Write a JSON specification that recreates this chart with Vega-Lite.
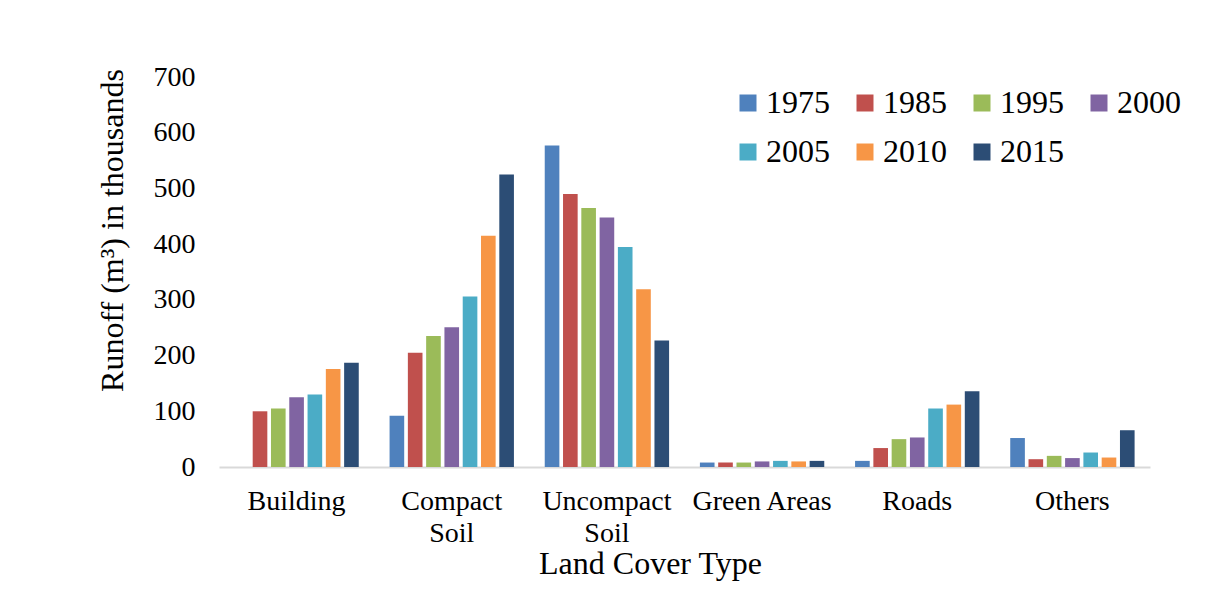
{
  "$schema": "https://vega.github.io/schema/vega-lite/v6.json",
  "autosize": "none",
  "width": 931,
  "height": 390,
  "padding": {"left": 219, "top": 77, "right": 60, "bottom": 127},
  "background": "white",
  "data": {
    "values": [
      {"type": "Building", "year": "1975", "runoff": 0},
      {"type": "Building", "year": "1985", "runoff": 100},
      {"type": "Building", "year": "1995", "runoff": 105},
      {"type": "Building", "year": "2000", "runoff": 125},
      {"type": "Building", "year": "2005", "runoff": 130},
      {"type": "Building", "year": "2010", "runoff": 176},
      {"type": "Building", "year": "2015", "runoff": 187},
      {"type": "Compact Soil", "year": "1975", "runoff": 92},
      {"type": "Compact Soil", "year": "1985", "runoff": 205},
      {"type": "Compact Soil", "year": "1995", "runoff": 235},
      {"type": "Compact Soil", "year": "2000", "runoff": 251},
      {"type": "Compact Soil", "year": "2005", "runoff": 306},
      {"type": "Compact Soil", "year": "2010", "runoff": 415},
      {"type": "Compact Soil", "year": "2015", "runoff": 525},
      {"type": "Uncompact Soil", "year": "1975", "runoff": 577},
      {"type": "Uncompact Soil", "year": "1985", "runoff": 490},
      {"type": "Uncompact Soil", "year": "1995", "runoff": 465},
      {"type": "Uncompact Soil", "year": "2000", "runoff": 448},
      {"type": "Uncompact Soil", "year": "2005", "runoff": 395},
      {"type": "Uncompact Soil", "year": "2010", "runoff": 319},
      {"type": "Uncompact Soil", "year": "2015", "runoff": 227},
      {"type": "Green Areas", "year": "1975", "runoff": 8},
      {"type": "Green Areas", "year": "1985", "runoff": 8},
      {"type": "Green Areas", "year": "1995", "runoff": 8},
      {"type": "Green Areas", "year": "2000", "runoff": 10},
      {"type": "Green Areas", "year": "2005", "runoff": 11},
      {"type": "Green Areas", "year": "2010", "runoff": 10},
      {"type": "Green Areas", "year": "2015", "runoff": 11},
      {"type": "Roads", "year": "1975", "runoff": 11},
      {"type": "Roads", "year": "1985", "runoff": 34},
      {"type": "Roads", "year": "1995", "runoff": 50},
      {"type": "Roads", "year": "2000", "runoff": 53},
      {"type": "Roads", "year": "2005", "runoff": 105},
      {"type": "Roads", "year": "2010", "runoff": 112},
      {"type": "Roads", "year": "2015", "runoff": 136},
      {"type": "Others", "year": "1975", "runoff": 52},
      {"type": "Others", "year": "1985", "runoff": 14},
      {"type": "Others", "year": "1995", "runoff": 20},
      {"type": "Others", "year": "2000", "runoff": 16},
      {"type": "Others", "year": "2005", "runoff": 26},
      {"type": "Others", "year": "2010", "runoff": 17},
      {"type": "Others", "year": "2015", "runoff": 66}
    ]
  },
  "mark": "bar",
  "encoding": {
    "x": {
      "field": "type",
      "type": "nominal",
      "sort": null,
      "title": "Land Cover Type",
      "scale": {"paddingInner": 0.175, "paddingOuter": 0.0875},
      "axis": {
        "labelAngle": 0,
        "ticks": false,
        "domainColor": "#D9D9D9",
        "domainWidth": 2,
        "labelPadding": 20,
        "labelLineHeight": 32,
        "labelExpr": "datum.value == 'Compact Soil' ? ['Compact', 'Soil'] : datum.value == 'Uncompact Soil' ? ['Uncompact', 'Soil'] : datum.value",
        "titlePadding": 1,
        "titleX": 431
      }
    },
    "xOffset": {
      "field": "year",
      "type": "nominal",
      "scale": {"paddingInner": 0.2, "paddingOuter": 0.1}
    },
    "y": {
      "field": "runoff",
      "type": "quantitative",
      "title": "Runoff (m³) in thousands",
      "scale": {"domain": [0, 700]},
      "axis": {
        "values": [0, 100, 200, 300, 400, 500, 600, 700],
        "grid": false,
        "domain": false,
        "ticks": false,
        "labelPadding": 24,
        "titlePadding": 24,
        "titleY": 153
      }
    },
    "color": {
      "field": "year",
      "type": "nominal",
      "title": null,
      "scale": {
        "domain": ["1975", "1985", "1995", "2000", "2005", "2010", "2015"],
        "range": ["#4F81BD", "#C0504D", "#9BBB59", "#8064A2", "#4BACC6", "#F79646", "#2C4D75"]
      },
      "legend": {
        "orient": "none",
        "direction": "horizontal",
        "legendX": 513,
        "legendY": 10,
        "columns": 4,
        "columnPadding": 19,
        "rowPadding": 17,
        "symbolType": "square",
        "symbolSize": 289,
        "symbolStrokeWidth": 0,
        "labelOffset": 2,
        "labelFont": "Liberation Serif",
        "labelFontSize": 32,
        "labelColor": "black",
        "labelLimit": 200
      }
    }
  },
  "config": {
    "font": "Liberation Serif",
    "view": {"stroke": null},
    "axis": {
      "labelFont": "Liberation Serif",
      "titleFont": "Liberation Serif",
      "labelFontSize": 28,
      "titleFontSize": 32,
      "titleFontWeight": "normal",
      "labelColor": "black",
      "titleColor": "black"
    }
  }
}
